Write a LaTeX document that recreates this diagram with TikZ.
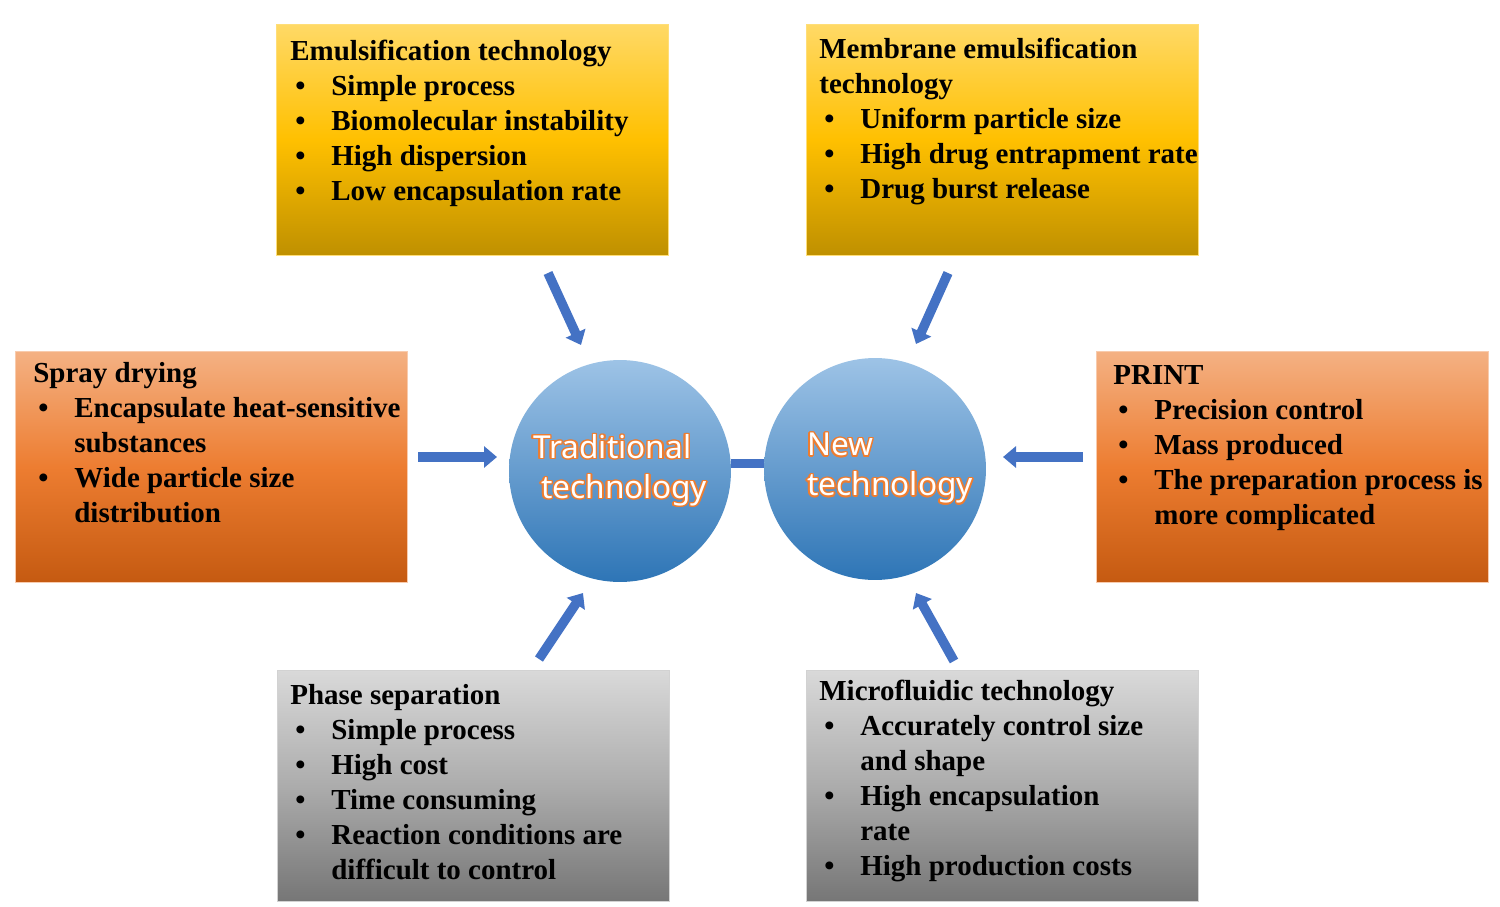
\documentclass[tikz,border=0pt]{standalone}
\usepackage{fontspec}
\setmainfont{Liberation Serif}
\newfontfamily\circfont{Noto Sans}
\usepackage{xcolor}
\usepackage{contour}
\contourlength{0.8pt}
\usepackage{tikz}
\usetikzlibrary{arrows.meta, positioning, calc}

\definecolor{pushblue}{RGB}{68,114,196}
\definecolor{ytop}{RGB}{255,217,102}
\definecolor{ymid}{RGB}{255,192,0}
\definecolor{ybot}{RGB}{191,144,0}
\definecolor{yline}{RGB}{255,222,120}
\definecolor{otop}{RGB}{244,177,131}
\definecolor{omid}{RGB}{237,125,49}
\definecolor{obot}{RGB}{197,90,17}
\definecolor{oline}{RGB}{248,203,173}
\definecolor{gtop}{RGB}{217,217,217}
\definecolor{gmid}{RGB}{172,172,172}
\definecolor{gbot}{RGB}{118,118,118}
\definecolor{gline}{RGB}{210,210,210}
\definecolor{ctop}{RGB}{157,195,230}
\definecolor{cbot}{RGB}{46,117,182}
\definecolor{corange}{RGB}{237,125,49}

\newcommand{\bl}{\hspace*{0.1cm}\makebox[0.72cm][l]{\textbullet}}
\newcommand{\cl}{\hspace*{0.82cm}}
\newcommand{\ctext}[1]{\contour{corange}{#1}}

\begin{document}
\begin{tikzpicture}[x=0.02cm, y=-0.02cm,
    every node/.style={font=\fontsize{16.5}{19.9}\selectfont\bfseries},
    box/.style={draw, line width=0.6pt, anchor=north west, minimum width=7.84cm, minimum height=4.62cm, inner sep=0pt},
    ybox/.style={box, draw=yline, top color=ytop, bottom color=ybot, middle color=ymid},
    obox/.style={box, draw=oline, top color=otop, bottom color=obot, middle color=omid},
    gbox/.style={box, draw=gline, top color=gtop, bottom color=gbot, middle color=gmid},
    listtext/.style={anchor=north west, align=left, inner sep=0pt},
    tech/.style={circle, minimum size=4.44cm, inner sep=0pt, top color=ctop, bottom color=cbot, text=white, align=left, font=\circfont\fontsize{18}{22.8}\selectfont},
    push/.style={pushblue, line width=0.19cm, -{Triangle[width=0.42cm, length=0.26cm]}},
    bar/.style={pushblue, line width=0.18cm}]
    \useasboundingbox (0,0) rectangle (1500,906);

    % the two centre circles
    \node[tech] (trad) at (620,471) {\ctext{Traditional}\\\hspace*{0.16cm}\ctext{technology}};
    \node[tech] (new) at (875,469) {\hspace*{0.6cm}\ctext{New}\\\hspace*{0.6cm}\ctext{technology}};
    \draw[bar] (trad.4.6) -- (trad.4.6 -| new.west);

    % boxes
    \node[ybox] (emul) at (276,24) {};
    \node[ybox] (memb) at (806,24) {};
    \node[obox] (spray) at (15,351) {};
    \node[obox] (print) at (1096,351) {};
    \node[gbox] (phase) at (277,670) {};
    \node[gbox] (micro) at (806,670) {};

    \node[listtext] (emultxt) at ([shift={(14,16)}]emul.north west)
        {Emulsification technology\\
         \bl Simple process\\
         \bl Biomolecular instability\\
         \bl High dispersion\\
         \bl Low encapsulation rate};
    \node[listtext] (membtxt) at ([shift={(13,14)}]memb.north west)
        {Membrane emulsification\\
         technology\\
         \bl Uniform particle size\\
         \bl High drug entrapment rate\\
         \bl Drug burst release};
    \node[listtext] (spraytxt) at ([shift={(18,11)}]spray.north west)
        {Spray drying\\
         \bl Encapsulate heat-sensitive\\
         \cl substances\\
         \bl Wide particle size\\
         \cl distribution};
    \node[listtext] (printtxt) at ([shift={(17,14)}]print.north west)
        {PRINT\\
         \bl Precision control\\
         \bl Mass produced\\
         \bl The preparation process is\\
         \cl more complicated};
    \node[listtext] (phasetxt) at ([shift={(13,14)}]phase.north west)
        {Phase separation\\
         \bl Simple process\\
         \bl High cost\\
         \bl Time consuming\\
         \bl Reaction conditions are\\
         \cl difficult to control};
    \node[listtext] (microtxt) at ([shift={(13,10)}]micro.north west)
        {Microfluidic technology\\
         \bl Accurately control size\\
         \cl and shape\\
         \bl High encapsulation\\
         \cl rate\\
         \bl High production costs};

    % arrows towards the circles
    \coordinate (emultail) at (548,273);
    \coordinate (emultip) at (581,345);
    \coordinate (membtail) at (948,273);
    \coordinate (membtip) at (916,344);
    \coordinate (spraytail) at (418,457);
    \coordinate (spraytip) at (497,457);
    \coordinate (printtail) at (1083,457);
    \coordinate (printtip) at (1003,457);
    \coordinate (phasetail) at (539,659);
    \coordinate (phasetip) at (583,593);
    \coordinate (microtail) at (954,661);
    \coordinate (microtip) at (916,593);
    \draw[push] (emultail) -- (emultip);
    \draw[push] (membtail) -- (membtip);
    \draw[push] (spraytail) -- (spraytip);
    \draw[push] (printtail) -- (printtip);
    \draw[push] (phasetail) -- (phasetip);
    \draw[push] (microtail) -- (microtip);
\end{tikzpicture}
\end{document}
